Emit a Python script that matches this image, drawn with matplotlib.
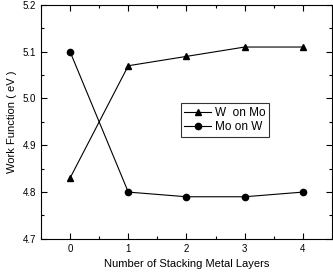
import matplotlib
matplotlib.use("Agg")
import matplotlib.pyplot as plt
from matplotlib.ticker import MultipleLocator

plt.rcParams["font.family"] = ["Liberation Sans", "DejaVu Sans"]

layers = [0, 1, 2, 3, 4]
w_on_mo = [4.83, 5.07, 5.09, 5.11, 5.11]
mo_on_w = [5.10, 4.80, 4.79, 4.79, 4.80]

fig = plt.figure(figsize=(3.33, 2.73), dpi=100)
ax = fig.add_axes([0.123, 0.125, 0.874, 0.857])

ax.plot(layers, w_on_mo, "-^", color="black", lw=0.8, ms=4.5, label="W  on Mo")
ax.plot(layers, mo_on_w, "-o", color="black", lw=0.8, ms=4.5, label="Mo on W")

ax.set_xlim(-0.5, 4.5)
ax.set_ylim(4.7, 5.2)
ax.xaxis.set_major_locator(MultipleLocator(1))
ax.xaxis.set_minor_locator(MultipleLocator(0.5))
ax.yaxis.set_major_locator(MultipleLocator(0.1))
ax.yaxis.set_minor_locator(MultipleLocator(0.05))
ax.tick_params(which="both", direction="in", top=True, right=True, labelsize=7, width=0.8)
ax.tick_params(which="major", length=4)
ax.tick_params(which="minor", length=2)
for s in ax.spines.values():
    s.set_linewidth(0.8)

ax.set_xlabel("Number of Stacking Metal Layers", fontsize=8, labelpad=4)
ax.set_ylabel("Work Function ( eV )", fontsize=8, labelpad=4)

leg = ax.legend(loc="upper left", bbox_to_anchor=(0.48, 0.58), fontsize=8.5, frameon=True,
                fancybox=False, edgecolor="black", handlelength=2.3, borderpad=0.3,
                labelspacing=0.2, handletextpad=0.3, borderaxespad=0)
leg.get_frame().set_linewidth(0.8)

fig.savefig("out.png", dpi=100)
